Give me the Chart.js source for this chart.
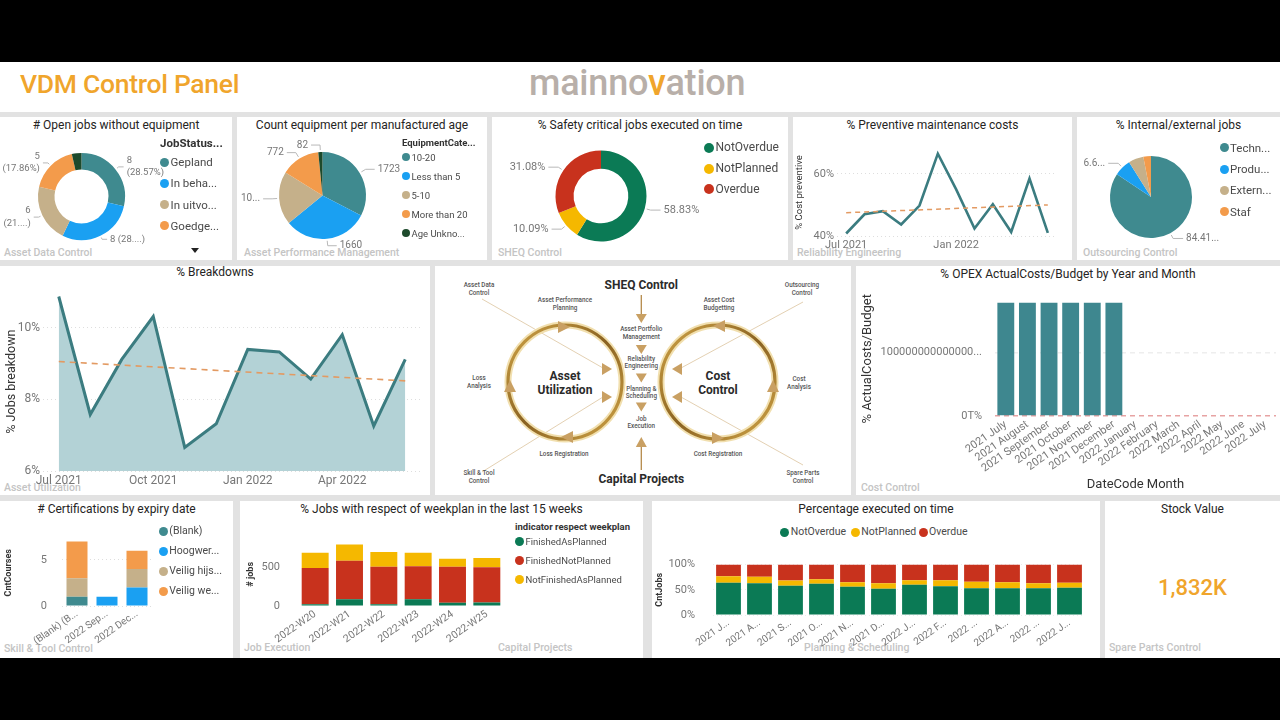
<!DOCTYPE html>
<html><head><meta charset="utf-8">
<script src="https://cdn.jsdelivr.net/npm/chart.js@4.4.1/dist/chart.umd.min.js"></script>
<style>
html,body{margin:0;padding:0;background:#000;}
#root{position:relative;width:1280px;height:720px;overflow:hidden;background:#000;font-family:Roboto,"Noto Sans",sans-serif;}
.abs{position:absolute;}
.panel{position:absolute;background:#fff;}
.title{position:absolute;font-size:12px;color:#252423;text-align:center;white-space:nowrap;line-height:14px;}
.foot{position:absolute;font-size:10.5px;color:#c4c4c4;white-space:nowrap;line-height:13px;font-weight:500;}
canvas{position:absolute;}
.lgi{position:absolute;white-space:nowrap;color:#4a4a4a;}
.dot{position:absolute;border-radius:50%;}
svg text{font-family:Roboto,"Noto Sans",sans-serif;}
</style></head>
<body>
<div id="root">
  <div class="abs" style="left:0;top:62px;width:1280px;height:50px;background:#fff;"></div>
  <div class="abs" style="left:0;top:112px;width:1280px;height:546px;background:#e2e2e2;"></div>
  <div class="abs" style="left:20px;top:68px;font-size:26.5px;line-height:32px;color:#f0a52c;font-weight:500;letter-spacing:-0.3px;">VDM Control Panel</div>
  <div class="abs" style="left:529px;top:63px;font-size:36px;line-height:40px;color:#b8afa9;font-weight:500;letter-spacing:-0.2px;">mainno<span style="color:#f0a52c">v</span>ation</div>

  <div class="panel" style="left:0;top:117px;width:232px;height:143px"></div>
  <div class="panel" style="left:237px;top:117px;width:250px;height:143px"></div>
  <div class="panel" style="left:492px;top:117px;width:296px;height:143px"></div>
  <div class="panel" style="left:793px;top:117px;width:279px;height:143px"></div>
  <div class="panel" style="left:1077px;top:117px;width:203px;height:143px"></div>
  <div class="panel" style="left:0;top:266px;width:430px;height:229px"></div>
  <div class="panel" style="left:435px;top:266px;width:416px;height:229px"></div>
  <div class="panel" style="left:856px;top:266px;width:424px;height:229px"></div>
  <div class="panel" style="left:0;top:501px;width:233px;height:157px"></div>
  <div class="panel" style="left:240px;top:501px;width:403px;height:157px"></div>
  <div class="panel" style="left:652px;top:501px;width:448px;height:157px"></div>
  <div class="panel" style="left:1105px;top:501px;width:175px;height:157px"></div>

  <div class="title" style="left:0;top:118px;width:232px"># Open jobs without equipment</div>
  <div class="title" style="left:237px;top:118px;width:250px">Count equipment per manufactured age</div>
  <div class="title" style="left:492px;top:118px;width:296px">% Safety critical jobs executed on time</div>
  <div class="title" style="left:793px;top:118px;width:279px">% Preventive maintenance costs</div>
  <div class="title" style="left:1077px;top:118px;width:203px">% Internal/external jobs</div>
  <div class="title" style="left:0;top:265px;width:430px">% Breakdowns</div>
  <div class="title" style="left:856px;top:267px;width:424px">% OPEX ActualCosts/Budget by Year and Month</div>
  <div class="title" style="left:0;top:502px;width:233px"># Certifications by expiry date</div>
  <div class="title" style="left:240px;top:502px;width:403px">% Jobs with respect of weekplan in the last 15 weeks</div>
  <div class="title" style="left:652px;top:502px;width:448px">Percentage executed on time</div>
  <div class="title" style="left:1105px;top:502px;width:175px">Stock Value</div>

  <div class="foot" style="left:4px;top:246px">Asset Data Control</div>
  <div class="foot" style="left:244px;top:246px">Asset Performance Management</div>
  <div class="foot" style="left:498px;top:246px">SHEQ Control</div>
  <div class="foot" style="left:797px;top:246px">Reliability Engineering</div>
  <div class="foot" style="left:1083px;top:246px">Outsourcing Control</div>
  <div class="foot" style="left:4px;top:481px">Asset Utilization</div>
  <div class="foot" style="left:861px;top:481px">Cost Control</div>
  <div class="foot" style="left:4px;top:642px">Skill &amp; Tool Control</div>
  <div class="foot" style="left:244px;top:641px">Job Execution</div>
  <div class="foot" style="left:498px;top:641px">Capital Projects</div>
  <div class="foot" style="left:804px;top:641px">Planning &amp; Scheduling</div>
  <div class="foot" style="left:1109px;top:641px">Spare Parts Control</div>

  <div class="abs" style="left:1105px;top:574px;width:175px;text-align:center;font-size:22px;line-height:28px;color:#f0a52c;font-weight:500;">1,832K</div>
  <div class="abs" style="left:191px;top:248px;width:0;height:0;border-left:4px solid transparent;border-right:4px solid transparent;border-top:5px solid #222;"></div>

  <svg class="abs" style="left:435px;top:266px" width="416" height="229" viewBox="435 266 416 229">
    <defs>
      <linearGradient id="ring" x1="0" y1="0" x2="1" y2="1">
        <stop offset="0" stop-color="#d2a648"/><stop offset="0.5" stop-color="#8a6221"/><stop offset="1" stop-color="#d2a648"/>
      </linearGradient>
    </defs>
    <g stroke="#dcc49e" stroke-width="0.8">
      <line x1="482" y1="299" x2="603" y2="368"/>
      <line x1="482" y1="472" x2="603" y2="397"/>
      <line x1="803" y1="302" x2="681" y2="368"/>
      <line x1="803" y1="465" x2="681" y2="397"/>
    </g>
    <g stroke="#b58a4a" stroke-width="1.3">
      <line x1="641.3" y1="295" x2="641.3" y2="314"/>
      <line x1="641.3" y1="447" x2="641.3" y2="470"/>
    </g>
    <circle cx="565" cy="382" r="57" fill="none" stroke="#f1dfae" stroke-width="7"/>
    <circle cx="565" cy="382" r="57" fill="none" stroke="url(#ring)" stroke-width="3.2"/>
    <circle cx="718" cy="382" r="57" fill="none" stroke="#f1dfae" stroke-width="7"/>
    <circle cx="718" cy="382" r="57" fill="none" stroke="url(#ring)" stroke-width="3.2"/>
    <g fill="#c9a063">
      <polygon points="558,321 570,327 558,333"/>
      <polygon points="504,392 510,380 516,392"/>
      <polygon points="573,431 561,437 573,443"/>
      <polygon points="725,320 713,326 725,332"/>
      <polygon points="767,392 773,380 779,392"/>
      <polygon points="712,432 724,438 712,444"/>
      <polygon points="635.8,314 646.8,314 641.3,323"/>
      <polygon points="635.8,345 646.8,345 641.3,354"/>
      <polygon points="635.8,373.5 646.8,373.5 641.3,382.5"/>
      <polygon points="635.8,402.5 646.8,402.5 641.3,411.5"/>
      <polygon points="635.8,447 646.8,447 641.3,437"/>
      <polygon points="602,363 612,369 602,375"/>
      <polygon points="602,391 612,397 602,403"/>
      <polygon points="682,363 672,369 682,375"/>
      <polygon points="682,391 672,397 682,403"/>
    </g>
    <g font-size="12" font-weight="700" fill="#2b2b2b" text-anchor="middle">
      <text x="641.3" y="289">SHEQ Control</text>
      <text x="641.3" y="483">Capital Projects</text>
      <text x="565" y="380">Asset</text>
      <text x="565" y="394">Utilization</text>
      <text x="718" y="380">Cost</text>
      <text x="718" y="394">Control</text>
    </g>
    <g font-size="6.3" fill="#555" text-anchor="middle" font-weight="500">
      <text x="479" y="287">Asset Data</text><text x="479" y="295">Control</text>
      <text x="565" y="302">Asset Performance</text><text x="565" y="310">Planning</text>
      <text x="641.3" y="331">Asset Portfolio</text><text x="641.3" y="339">Management</text>
      <text x="641.3" y="361">Reliability</text><text x="641.3" y="368">Engineering</text>
      <text x="641.3" y="391">Planning &amp;</text><text x="641.3" y="398">Scheduling</text>
      <text x="641.3" y="421">Job</text><text x="641.3" y="428">Execution</text>
      <text x="479" y="380">Loss</text><text x="479" y="388">Analysis</text>
      <text x="564" y="456">Loss Registration</text>
      <text x="479" y="475">Skill &amp; Tool</text><text x="479" y="483">Control</text>
      <text x="802" y="287">Outsourcing</text><text x="802" y="295">Control</text>
      <text x="719" y="302">Asset Cost</text><text x="719" y="310">Budgetting</text>
      <text x="799" y="381">Cost</text><text x="799" y="389">Analysis</text>
      <text x="718" y="456">Cost Registration</text>
      <text x="803" y="475">Spare Parts</text><text x="803" y="483">Control</text>
    </g>
  </svg>
</div>
<script>
// ---------------- DATA ----------------
const openJobsCats = ['Gepland', 'In beha...', 'In uitvo...', 'Goedge...', 'Overig'];
const openJobsVals = [8, 8, 6, 5, 1];
const openJobsLabels = ['8\n(28.57%)', '8 (28....)', '6\n(21....)', '5\n(17.86%)', ''];
const openJobsLegend = ['Gepland', 'In beha...', 'In uitvo...', 'Goedge...'];

const ageCats = ['10-20', 'Less than 5', '5-10', 'More than 20', 'Age Unkno...'];
const ageVals = [1723, 1660, 1043, 772, 82];
const ageLabels = ['1723', '1660', '10...', '772', '82'];

const safetyCats = ['NotOverdue', 'NotPlanned', 'Overdue'];
const safetyVals = [58.83, 10.09, 31.08];
const safetyLabels = ['58.83%', '10.09%', '31.08%'];

const months = ['Jul 2021', 'Aug 2021', 'Sep 2021', 'Oct 2021', 'Nov 2021', 'Dec 2021', 'Jan 2022', 'Feb 2022', 'Mar 2022', 'Apr 2022', 'May 2022', 'Jun 2022'];
const prevCost = [40.8, 47.0, 48.0, 43.7, 49.8, 66.5, 55.0, 42.4, 50.2, 41.3, 58.5, 41.0];
const prevTrend = [47.5, null, null, null, null, null, null, null, null, null, null, 50.0];
const prevTicks = [40, 60];

const jobTypeCats = ['Techn...', 'Produ...', 'Extern...', 'Staf'];
const jobTypeVals = [84.41, 6.63, 5.96, 3.0];
const jobTypeLabels = ['84.41...', '6.6...', '', ''];

const breakdownPct = [10.88, 7.58, 9.12, 10.32, 6.66, 7.32, 9.40, 9.33, 8.57, 9.81, 7.26, 9.12];
const breakdownTrend = [9.06, null, null, null, null, null, null, null, null, null, null, 8.52];
const breakdownTicks = [6, 8, 10];

const opexMonths = ['2021 July', '2021 August', '2021 September', '2021 October', '2021 November', '2021 December', '2022 January', '2022 February', '2022 March', '2022 April', '2022 May', '2022 June', '2022 July'];
const opexVals = [1.78e15, 1.78e15, 1.78e15, 1.78e15, 1.78e15, 1.78e15, null, null, null, null, null, null, null];
const opexTicks = [0, 1e15];
const opexTickLabels = ['0T%', '100000000000000...'];

const certCats = ['(Blank) (B...', '2022 Sep...', '2022 Dec...'];
const certSeries = ['(Blank)', 'Hoogwer...', 'Veilig hijs...', 'Veilig we...'];
const certBlank = [1, 0, 0];
const certHoogwerker = [0, 1, 2];
const certVeiligHijsen = [2, 0, 2];
const certVeiligWerken = [4, 0, 2];
const certTicks = [0, 5];

const weeks = ['2022-W20', '2022-W21', '2022-W22', '2022-W23', '2022-W24', '2022-W25'];
const weekSeries = ['FinishedAsPlanned', 'FinishedNotPlanned', 'NotFinishedAsPlanned'];
const finishedAsPlanned = [24, 87, 24, 87, 42, 45];
const finishedNotPlanned = [466, 497, 483, 427, 465, 455];
const notFinishedAsPlanned = [199, 210, 192, 175, 105, 122];
const weekTicks = [0, 500];

const execMonths = ['2021 J...', '2021 A...', '2021 S...', '2021 O...', '2021 N...', '2021 D...', '2022 J...', '2022 F...', '2022 ...', '2022 A...', '2022 ...', '2022 J...'];
const execSeries = ['NotOverdue', 'NotPlanned', 'Overdue'];
const execNotOverdue = [64, 63, 58, 62, 56, 52, 60, 57, 53, 53, 53, 54];
const execNotPlanned = [13, 13, 10.5, 9, 9, 11, 9, 12, 13, 12, 10, 10];
const execOverdue = [23, 24, 31.5, 29, 35, 37, 31, 31, 34, 35, 37, 36];
const execTicks = [0, 50, 100];

// ---------------- STYLE ----------------
const C_TEAL = '#3f8a8f', C_BLUE = '#1aa0f2', C_TAN = '#c5b08a', C_ORANGE = '#f39b4b', C_DKGREEN = '#1d4a2c';
const C_GREEN = '#0b7a55', C_YELLOW = '#f5b800', C_RED = '#c8321d';
const C_LINE = '#3b7c80', C_AREA = '#b3d2d6', C_TREND = '#e39a62';
const FONT = 'Roboto, "Noto Sans", sans-serif';

Chart.defaults.font.family = FONT;
Chart.defaults.color = '#777';
Chart.defaults.animation = false;
Chart.defaults.responsive = false;
Chart.defaults.plugins.legend.display = false;
Chart.defaults.plugins.tooltip.enabled = false;

const root = document.getElementById('root');
function mk(x, y, w, h) {
  const c = document.createElement('canvas');
  c.width = w; c.height = h;
  c.style.left = x + 'px'; c.style.top = y + 'px';
  c.style.width = w + 'px'; c.style.height = h + 'px';
  root.appendChild(c);
  return c;
}

function outLabels(texts, o) {
  return {
    id: 'outLabels',
    afterDatasetsDraw(chart) {
      const ctx = chart.ctx;
      const meta = chart.getDatasetMeta(0);
      ctx.save();
      ctx.font = o.size + 'px ' + FONT;
      ctx.fillStyle = '#777';
      ctx.strokeStyle = '#b8b8b8';
      ctx.lineWidth = 1;
      meta.data.forEach((arc, i) => {
        const t = texts[i];
        if (!t) return;
        const p = arc.getProps(['x', 'y', 'startAngle', 'endAngle', 'outerRadius'], true);
        const a = (p.startAngle + p.endAngle) / 2;
        const cs = Math.cos(a), sn = Math.sin(a);
        const dir = cs >= 0 ? 1 : -1;
        const x0 = p.x + (p.outerRadius + 2) * cs, y0 = p.y + (p.outerRadius + 2) * sn;
        const x1 = p.x + (p.outerRadius + o.elbow) * cs, y1 = p.y + (p.outerRadius + o.elbow) * sn;
        const x2 = x1 + dir * o.arm;
        ctx.beginPath(); ctx.moveTo(x0, y0); ctx.lineTo(x1, y1); ctx.lineTo(x2, y1); ctx.stroke();
        const lines = t.split('\n');
        const lh = o.size * 1.3;
        ctx.textAlign = dir > 0 ? 'left' : 'right';
        ctx.textBaseline = 'middle';
        lines.forEach((ln, k) => ctx.fillText(ln, x2 + dir * 3, y1 + (k - (lines.length - 1) / 2) * lh));
      });
      ctx.restore();
    }
  };
}

function legend(labels, colors, o) {
  if (o.title) {
    const d = document.createElement('div');
    d.className = 'lgi';
    d.style.cssText = `left:${o.tx}px;top:${o.ty - o.fs * 0.7}px;font-size:${o.fs}px;line-height:${o.fs * 1.4}px;font-weight:700;color:#333`;
    d.textContent = o.title; root.appendChild(d);
  }
  labels.forEach((lb, i) => {
    const cx = o.xs ? o.xs[i] : o.x;
    const cy = o.xs ? o.y : o.y + i * o.dy;
    const dot = document.createElement('div');
    dot.className = 'dot';
    dot.style.cssText = `left:${cx - o.r}px;top:${cy - o.r}px;width:${2 * o.r}px;height:${2 * o.r}px;background:${colors[i]}`;
    root.appendChild(dot);
    const t = document.createElement('div');
    t.className = 'lgi';
    t.style.cssText = `left:${cx + o.r + 1.5}px;top:${cy - o.fs * 0.7}px;font-size:${o.fs}px;line-height:${o.fs * 1.4}px`;
    t.textContent = lb; root.appendChild(t);
  });
}

function yAx(o) {
  return {
    min: o.min, max: o.max, stacked: !!o.stacked,
    afterFit: s => { s.width = o.width; },
    afterBuildTicks: a => { a.ticks = o.ticks.map(v => ({ value: v })); },
    ticks: { padding: o.pad, font: { size: o.fs }, color: '#777', callback: o.cb },
    grid: { color: o.gridColor || '#dedede', drawTicks: false, lineWidth: 1 },
    border: { display: false, dash: o.dash || [1, 3] },
    title: { display: true, text: o.title, font: { size: o.tfs, weight: o.tw || 'normal' }, color: '#333', padding: { top: o.tpad, bottom: 0 } }
  };
}
function xAx(o) {
  const ticks = { autoSkip: false, maxRotation: o.rot || 0, minRotation: o.rot || 0, padding: o.pad, font: { size: o.fs }, color: '#777' };
  if (o.cb) ticks.callback = o.cb;
  const ax = {
    offset: true, stacked: !!o.stacked,
    afterFit: s => { s.height = o.height; },
    ticks,
    grid: { display: false, drawTicks: false },
    border: { display: false }
  };
  if (o.title) ax.title = { display: true, text: o.title, font: { size: o.tfs }, color: '#333', padding: { top: 2, bottom: o.tpadb } };
  return ax;
}

// ---------------- P1 donut ----------------
const openJobsColors = [C_TEAL, C_BLUE, C_TAN, C_ORANGE, C_DKGREEN];
new Chart(mk(0, 135, 172, 123), {
  type: 'doughnut',
  data: { labels: openJobsCats, datasets: [{ data: openJobsVals, backgroundColor: openJobsColors, borderWidth: 0 }] },
  options: { cutout: '62%', layout: { padding: { left: 38, right: 47, top: 18, bottom: 18 } } },
  plugins: [outLabels(openJobsLabels, { size: 9.5, elbow: 4, arm: 5 })]
});
legend(openJobsLegend, openJobsColors, { title: 'JobStatus...', tx: 160, ty: 143, x: 164.5, y: 162, dy: 21.3, r: 4.5, fs: 11.5 });

// ---------------- P2 pie ----------------
const ageColors = [C_TEAL, C_BLUE, C_TAN, C_ORANGE, C_DKGREEN];
new Chart(mk(237, 135, 168, 123), {
  type: 'pie',
  data: { labels: ageCats, datasets: [{ data: ageVals, backgroundColor: ageColors, borderWidth: 0 }] },
  options: { layout: { padding: { left: 42, right: 39, top: 17, bottom: 19 } } },
  plugins: [outLabels(ageLabels, { size: 10, elbow: 7, arm: 9 })]
});
legend(ageCats, ageColors, { title: 'EquipmentCate...', tx: 402, ty: 143, x: 406, y: 157.3, dy: 19, r: 4, fs: 9.5 });

// ---------------- P3 donut ----------------
const safetyColors = [C_GREEN, C_YELLOW, C_RED];
new Chart(mk(493, 135, 212, 123), {
  type: 'doughnut',
  data: { labels: safetyCats, datasets: [{ data: safetyVals, backgroundColor: safetyColors, borderWidth: 0 }] },
  options: { cutout: '60%', layout: { padding: { left: 62.5, right: 58.5, top: 15.5, bottom: 16.5 } } },
  plugins: [outLabels(safetyLabels, { size: 11, elbow: 6, arm: 10 })]
});
legend(safetyCats, safetyColors, { x: 709, y: 147.7, dy: 20.8, r: 5, fs: 12 });

// ---------------- P4 line ----------------
new Chart(mk(793, 135, 277, 123), {
  type: 'line',
  data: {
    labels: months,
    datasets: [
      { data: prevTrend, borderColor: C_TREND, borderWidth: 1.5, borderDash: [5, 4], pointRadius: 0, spanGaps: true, order: 0 },
      { data: prevCost, borderColor: C_LINE, borderWidth: 2.6, pointRadius: 0, order: 1 }
    ]
  },
  options: {
    layout: { padding: { left: 0, right: 13, top: 14, bottom: 4 } },
    scales: {
      x: xAx({ height: 18, pad: 3, fs: 11, cb: function (v, i) { return i % 6 === 0 ? this.getLabelForValue(v) : ''; } }),
      y: yAx({ min: 40, max: 68, width: 44, ticks: prevTicks, pad: 3, fs: 11, cb: v => v + '%', title: '% Cost preventive', tfs: 9.5, tpad: 1 })
    }
  }
});

// ---------------- P5 pie ----------------
const jobTypeColors = [C_TEAL, C_BLUE, C_TAN, C_ORANGE];
new Chart(mk(1077, 135, 145, 123), {
  type: 'pie',
  data: { labels: jobTypeCats, datasets: [{ data: jobTypeVals, backgroundColor: jobTypeColors, borderWidth: 0 }] },
  options: { layout: { padding: { left: 33, right: 30, top: 21, bottom: 20 } } },
  plugins: [outLabels(jobTypeLabels, { size: 10, elbow: 6, arm: 10 })]
});
legend(jobTypeCats, jobTypeColors, { x: 1224, y: 147.7, dy: 21.4, r: 4.5, fs: 11.5 });

// ---------------- P6 area ----------------
new Chart(mk(0, 282, 430, 213), {
  type: 'line',
  data: {
    labels: months,
    datasets: [
      { data: breakdownTrend, borderColor: C_TREND, borderWidth: 1.6, borderDash: [6, 5], pointRadius: 0, spanGaps: true, order: 0 },
      { data: breakdownPct, borderColor: C_LINE, backgroundColor: C_AREA, fill: 'start', borderWidth: 3, pointRadius: 0, order: 1 }
    ]
  },
  options: {
    layout: { padding: { left: 0, right: 9, top: 9, bottom: 4 } },
    scales: {
      x: xAx({ height: 20, pad: 3, fs: 12, cb: function (v, i) { return i % 3 === 0 && i < 10 ? this.getLabelForValue(v) : ''; } }),
      y: yAx({ min: 6, max: 11, width: 43, ticks: breakdownTicks, pad: 3, fs: 12, cb: v => v + '%', title: '% Jobs breakdown', tfs: 12.5, tpad: 4 })
    }
  }
});

// ---------------- P8 OPEX bars ----------------
new Chart(mk(856, 282, 424, 213), {
  type: 'bar',
  data: { labels: opexMonths, datasets: [{ data: opexVals, backgroundColor: '#3e878f', barPercentage: 0.78, categoryPercentage: 1 }] },
  options: {
    layout: { padding: { left: 0, right: 4, top: 10, bottom: 1 } },
    scales: {
      x: xAx({ height: 78, pad: 2, fs: 11, rot: 35, title: 'DateCode Month', tfs: 13, tpadb: 1 }),
      y: Object.assign(yAx({ min: 0, max: 1.8e15, width: 139, ticks: opexTicks, pad: 13, fs: 11, cb: (v, i) => opexTickLabels[i], title: '% ActualCosts/Budget', tfs: 13, tpad: 4, dash: [5, 4] }),
        { grid: { drawTicks: false, lineWidth: 1.5, color: c => c.tick && c.tick.value === 0 ? '#e7a3a3' : '#eeeeee' } })
    }
  }
});

// ---------------- P9 certifications ----------------
const certColors = [C_TEAL, C_BLUE, C_TAN, C_ORANGE];
const certData = [certBlank, certHoogwerker, certVeiligHijsen, certVeiligWerken];
new Chart(mk(0, 518, 160, 139), {
  type: 'bar',
  data: { labels: certCats, datasets: certData.map((d, i) => ({ label: certSeries[i], data: d, backgroundColor: certColors[i], barPercentage: 0.7, categoryPercentage: 1 })) },
  options: {
    layout: { padding: { left: 0, right: 8, top: 17, bottom: 3 } },
    scales: {
      x: xAx({ height: 48, pad: 2, fs: 10, rot: 35, stacked: true }),
      y: yAx({ min: 0, max: 7.2, width: 62, ticks: certTicks, pad: 15, fs: 11, stacked: true, cb: v => v, title: 'CntCourses', tfs: 9, tw: 'bold', tpad: 3 })
    }
  }
});
legend(certSeries, certColors, { x: 163.3, y: 531.3, dy: 20, r: 4.5, fs: 10.5 });

// ---------------- P10 weekplan ----------------
const weekColors = [C_GREEN, C_RED, C_YELLOW];
const weekData = [finishedAsPlanned, finishedNotPlanned, notFinishedAsPlanned];
new Chart(mk(240, 518, 272, 139), {
  type: 'bar',
  data: { labels: weeks, datasets: weekData.map((d, i) => ({ label: weekSeries[i], data: d, backgroundColor: weekColors[i], barPercentage: 0.785, categoryPercentage: 1 })) },
  options: {
    layout: { padding: { left: 0, right: 8, top: 10, bottom: 3 } },
    scales: {
      x: xAx({ height: 48, pad: 2, fs: 10.5, rot: 35, stacked: true }),
      y: yAx({ min: 0, max: 820, width: 58, ticks: weekTicks, pad: 18, fs: 11, stacked: true, cb: v => v, title: '# jobs', tfs: 9, tw: 'bold', tpad: 5, gridColor: 'rgba(0,0,0,0)' })
    }
  }
});
legend(weekSeries, weekColors, { title: 'indicator respect weekplan', tx: 515, ty: 526.3, x: 519.5, y: 541.3, dy: 19.2, r: 4.5, fs: 9.5 });

// ---------------- P11 executed on time ----------------
const execColors = [C_GREEN, C_YELLOW, C_RED];
const execData = [execNotOverdue, execNotPlanned, execOverdue];
new Chart(mk(652, 540, 446, 117), {
  type: 'bar',
  data: { labels: execMonths, datasets: execData.map((d, i) => ({ label: execSeries[i], data: d, backgroundColor: execColors[i], barPercentage: 0.8, categoryPercentage: 1 })) },
  options: {
    layout: { padding: { left: 0, right: 13, top: 11, bottom: 2 } },
    scales: {
      x: xAx({ height: 40, pad: 2, fs: 10, rot: 35, stacked: true }),
      y: yAx({ min: 0, max: 100, width: 61, ticks: execTicks, pad: 18, fs: 11, stacked: true, cb: v => v + '%', title: 'CntJobs', tfs: 9, tw: 'bold', tpad: 2.6, gridColor: '#ececec' })
    }
  }
});
legend(execSeries, execColors, { xs: [784.7, 855.3, 923], y: 532, r: 4.5, fs: 10.5 });
</script>
</body></html>
